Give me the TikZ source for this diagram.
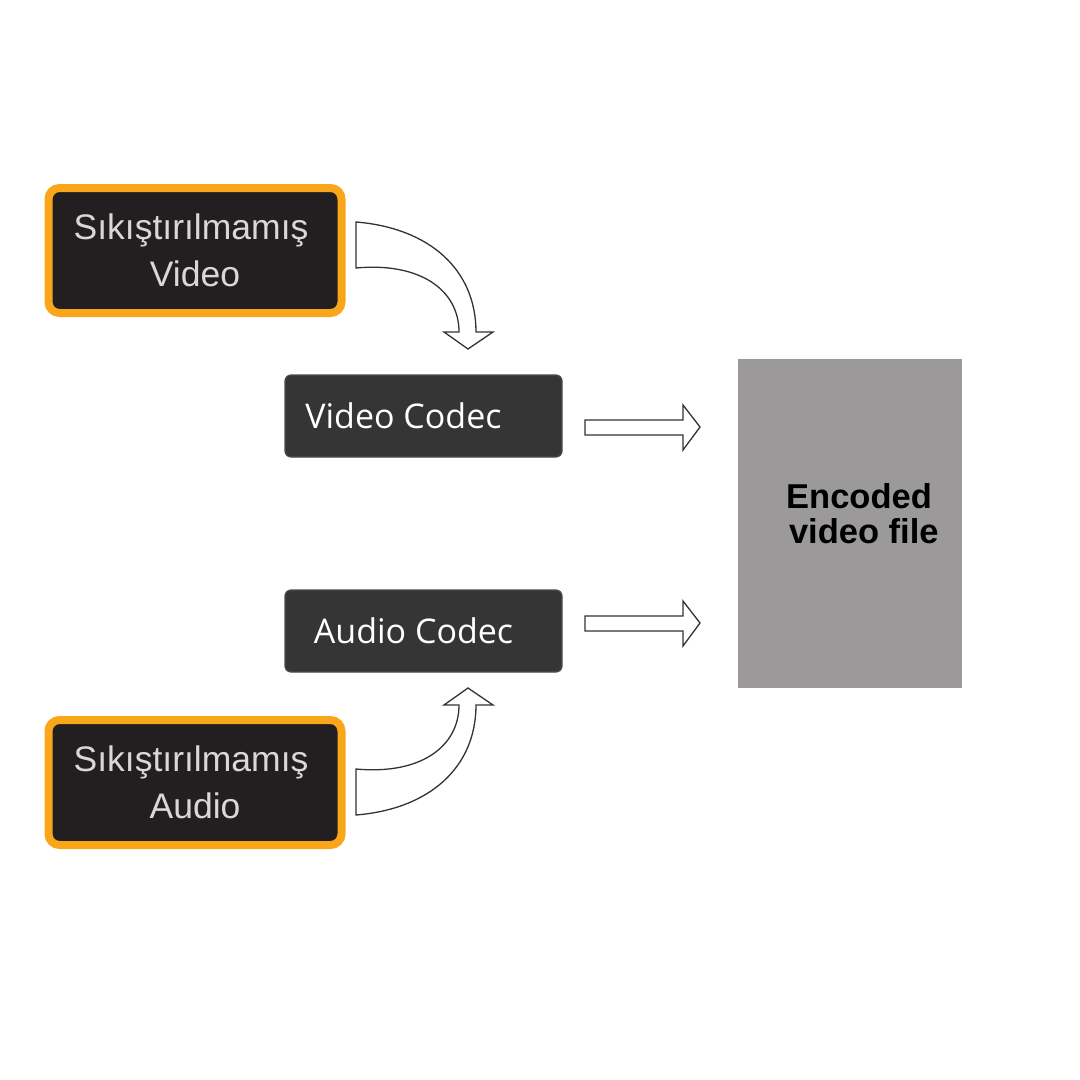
\documentclass[tikz,border=0pt]{standalone}
\usepackage{fontspec}
\setmainfont{Liberation Sans}
\newfontfamily\codecfont{Open Sans}
\definecolor{orng}{HTML}{F9A61A}
\definecolor{dk}{HTML}{231F20}
\definecolor{cdk}{HTML}{353535}
\definecolor{gry}{HTML}{9B999A}
\definecolor{ltx}{HTML}{D8D8D8}
\begin{document}
\begin{tikzpicture}[x=1pt,y=-1pt,
  src/.style={draw=orng,line width=8pt,fill=dk,rounded corners=11pt,text=ltx,align=center,font=\fontsize{35.5}{47}\selectfont,minimum width=293pt,minimum height=125pt,inner sep=0pt},
  codec/.style={draw=black!70,line width=1.2pt,fill=cdk,rounded corners=6pt,text=white,font=\codecfont\fontsize{34}{40}\selectfont,minimum width=277pt,minimum height=82pt,inner sep=0pt},
  harrow/.style={draw=black!80,line width=1.3pt,fill=white,line join=miter}]
\useasboundingbox (0,0) rectangle (1080,1080);
\node[src] (sv) at (195,250.5) {\hspace*{-8pt}Sıkıştırılmamış\\Video};
\node[src] (sa) at (195,782.5) {\hspace*{-8pt}Sıkıştırılmamış\\Audio};
\node[codec] (vc) at (423.5,416) {\hspace*{-40pt}Video Codec};
\node[codec] (ac) at (423.5,631) {\hspace*{-20pt}Audio Codec};
\node[fill=gry,minimum width=224pt,minimum height=329pt,inner sep=0pt] (ef) at (850,523.5) {};
\node[font=\bfseries\fontsize{34.5}{35}\selectfont,align=center,text=black] (eft) at (859,514) {Encoded\\\ video file};
% curved arrows
\draw[harrow] (356,222) .. controls (430,228) and (476,270) .. (476,332) -- (493,332) -- (468,349) -- (444,332) -- (459,332) .. controls (459,290) and (420,262) .. (356,268) -- cycle;
\draw[harrow] (356,815) .. controls (430,809) and (476,767) .. (476,705) -- (493,705) -- (468,688) -- (444,705) -- (459,705) .. controls (459,747) and (420,775) .. (356,769) -- cycle;
% straight arrows
\draw[harrow] (585,420) -- (683,420) -- (683,405) -- (700,427) -- (683,450) -- (683,435) -- (585,435) -- cycle;
\draw[harrow] (585,616) -- (683,616) -- (683,601) -- (700,623) -- (683,646) -- (683,631) -- (585,631) -- cycle;
\end{tikzpicture}
\end{document}
